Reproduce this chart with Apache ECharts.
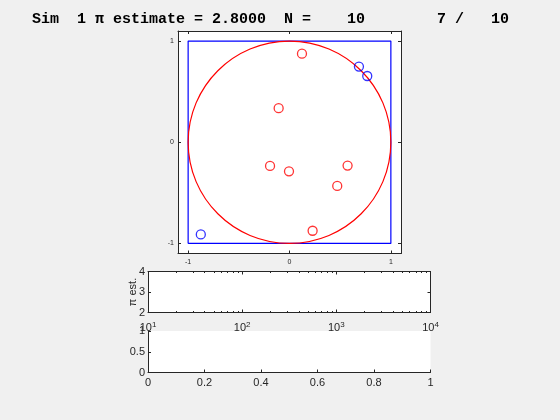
<!DOCTYPE html>
<html>
<head>
<meta charset="utf-8">
<script src="https://cdn.jsdelivr.net/npm/echarts@6/dist/echarts.min.js"></script>
<style>html,body{margin:0;padding:0;background:#f0f0f0}#c{width:560px;height:420px}</style>
</head>
<body>
<div id="c"></div>
<script>
// ---- data ----
const titleText = "Sim  1 \u03c0 estimate = 2.8000  N =    10        7 /   10";
const insidePts = [[0.123,0.876],[-0.107,0.337],[-0.192,-0.234],[-0.005,-0.287],[0.573,-0.231],[0.471,-0.432],[0.228,-0.875]];
const outsidePts = [[0.685,0.748],[0.767,0.655],[-0.875,-0.911]];
const squareCorners = [[-1,-1],[1,-1],[1,1],[-1,1],[-1,-1]];
const unitCircle = [[0,0,1]]; // center x, center y, radius
const boxTicks = [-1,0,1];
const logMajor = [10,100,1000,10000];
const logExp = {10:'1',100:'2',1000:'3',10000:'4'};
const logMinor = [20,30,40,50,60,70,80,90,200,300,400,500,600,700,800,900,2000,3000,4000,5000,6000,7000,8000,9000];
const piTicks = [2,3,4];
const fracXTicks = [0,0.2,0.4,0.6,0.8,1];
const fracYTicks = [0,0.5,1];

const AX = '#262626';
const FONT = 'Liberation Sans, Arial, sans-serif';
function boxAxis(grid, pos, showLabel, extra) {
  return Object.assign({
    gridIndex: grid, position: pos, type: 'value',
    axisLine: {show: true, onZero: false, lineStyle: {color: AX, width: 1}},
    axisTick: {show: true, inside: true, length: 3, lineStyle: {color: AX}},
    axisLabel: {show: showLabel, color: AX, fontFamily: FONT},
    splitLine: {show: false}
  }, extra || {});
}

const chart = echarts.init(document.getElementById('c'), null, {renderer: 'canvas'});
const option = {
  backgroundColor: '#f0f0f0',
  animation: false,
  title: {
    text: titleText, left: 27, top: 7,
    textStyle: {fontFamily: 'Liberation Mono, Courier New, monospace', fontWeight: 'bold', fontSize: 15, color: '#000'}
  },
  grid: [
    {left: 178, top: 31, width: 223, height: 222.5, show: true, backgroundColor: '#fff', borderWidth: 0},
    {left: 148, top: 271.5, width: 282.5, height: 41, show: true, backgroundColor: '#fff', borderWidth: 0},
    {left: 148, top: 331, width: 282.5, height: 41.5, show: true, backgroundColor: '#fff', borderWidth: 0}
  ],
  xAxis: [
    boxAxis(0, 'bottom', true, {min: -1.1, max: 1.1,
      axisTick: {show: true, inside: true, length: 3, customValues: boxTicks, lineStyle: {color: AX}},
      axisLabel: {show: true, customValues: boxTicks, fontSize: 7, margin: 5, color: AX, fontFamily: FONT}}),
    boxAxis(0, 'top', false, {min: -1.1, max: 1.1,
      axisTick: {show: true, inside: true, length: 3, customValues: boxTicks, lineStyle: {color: AX}}}),
    boxAxis(1, 'bottom', true, {type: 'log', min: 10, max: 10000, logBase: 10,
      axisTick: {show: true, inside: true, length: 3, customValues: logMajor, lineStyle: {color: AX}},
      axisLabel: {show: true, customValues: logMajor, margin: 8, color: AX, fontFamily: FONT, fontSize: 11,
        formatter: function (v) { return '10{s|' + logExp[Math.round(v)] + '}'; },
        rich: {s: {fontSize: 8, verticalAlign: 'top', padding: [0,0,7,0], color: AX, fontFamily: FONT}}}}),
    boxAxis(1, 'top', false, {type: 'log', min: 10, max: 10000, logBase: 10,
      axisTick: {show: true, inside: true, length: 3, customValues: logMajor, lineStyle: {color: AX}}}),
    boxAxis(1, 'bottom', false, {type: 'log', min: 10, max: 10000, logBase: 10, axisLine: {show: false},
      axisTick: {show: true, inside: true, length: 1.5, customValues: logMinor, lineStyle: {color: AX}}}),
    boxAxis(1, 'top', false, {type: 'log', min: 10, max: 10000, logBase: 10, axisLine: {show: false},
      axisTick: {show: true, inside: true, length: 1.5, customValues: logMinor, lineStyle: {color: AX}}}),
    boxAxis(2, 'bottom', true, {min: 0, max: 1, interval: 0.2,
      axisTick: {show: true, inside: true, length: 3, customValues: fracXTicks, lineStyle: {color: AX}},
      axisLabel: {show: true, customValues: fracXTicks, fontSize: 11, margin: 5, color: AX, fontFamily: FONT}})
  ],
  yAxis: [
    boxAxis(0, 'left', true, {min: -1.1, max: 1.1,
      axisTick: {show: true, inside: true, length: 3, customValues: boxTicks, lineStyle: {color: AX}},
      axisLabel: {show: true, customValues: boxTicks, fontSize: 7, margin: 4, color: AX, fontFamily: FONT}}),
    boxAxis(0, 'right', false, {min: -1.1, max: 1.1,
      axisTick: {show: true, inside: true, length: 3, customValues: boxTicks, lineStyle: {color: AX}}}),
    boxAxis(1, 'left', true, {min: 2, max: 4, interval: 1,
      name: '\u03c0 est.', nameLocation: 'middle', nameRotate: 90, nameGap: 10, nameMoveOverlap: false,
      nameTextStyle: {color: AX, fontFamily: FONT, fontSize: 11},
      axisTick: {show: true, inside: true, length: 3, customValues: piTicks, lineStyle: {color: AX}},
      axisLabel: {show: true, customValues: piTicks, fontSize: 11, margin: 3, color: AX, fontFamily: FONT}}),
    boxAxis(1, 'right', false, {min: 2, max: 4, interval: 1,
      axisTick: {show: true, inside: true, length: 3, customValues: piTicks, lineStyle: {color: AX}}}),
    boxAxis(2, 'left', true, {min: 0, max: 1, interval: 0.5,
      axisTick: {show: true, inside: true, length: 3, customValues: fracYTicks, lineStyle: {color: AX}},
      axisLabel: {show: true, customValues: fracYTicks, fontSize: 11, margin: 3, color: AX, fontFamily: FONT}})
  ],
  series: [
    {
      type: 'line', xAxisIndex: 0, yAxisIndex: 0, data: squareCorners,
      symbol: 'none', lineStyle: {color: '#0000ff', width: 1.2}, z: 2, silent: true
    },
    {
      type: 'custom', xAxisIndex: 0, yAxisIndex: 0, data: unitCircle, z: 3, silent: true,
      renderItem: function (params, api) {
        const c = api.coord([api.value(0), api.value(1)]);
        const s = api.size([api.value(2), api.value(2)]);
        return {type: 'ellipse', shape: {cx: c[0], cy: c[1], rx: s[0], ry: s[1]},
          style: {fill: 'none', stroke: '#ff0000', lineWidth: 1.2}};
      }
    },
    {
      type: 'scatter', xAxisIndex: 0, yAxisIndex: 0, data: insidePts, symbol: 'circle', symbolSize: 9, z: 4,
      itemStyle: {color: 'rgba(0,0,0,0)', borderColor: '#ff0000', borderWidth: 1.3}
    },
    {
      type: 'scatter', xAxisIndex: 0, yAxisIndex: 0, data: outsidePts, symbol: 'circle', symbolSize: 9, z: 4,
      itemStyle: {color: 'rgba(0,0,0,0)', borderColor: '#0000ff', borderWidth: 1.3}
    }
  ]
};
chart.setOption(option);
</script>
</body>
</html>
